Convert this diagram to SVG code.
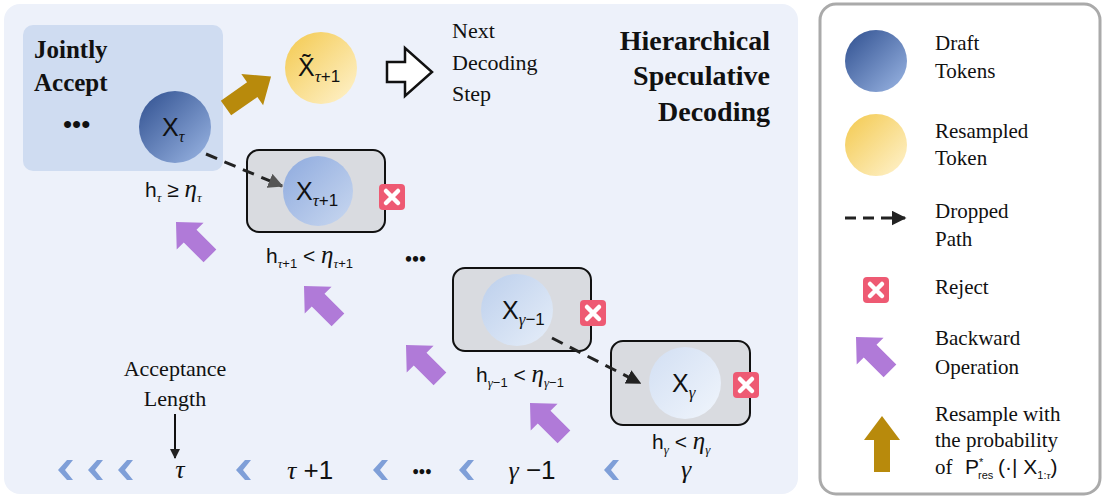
<svg xmlns="http://www.w3.org/2000/svg" width="1106" height="499" viewBox="0 0 1106 499">
<defs>
<linearGradient id="gDark" x1="0" y1="0" x2="1" y2="1"><stop offset="0" stop-color="#2f4f8f"/><stop offset="1" stop-color="#9bb6e4"/></linearGradient>
<linearGradient id="gMid" x1="0" y1="0" x2="1" y2="1"><stop offset="0" stop-color="#8eaade"/><stop offset="1" stop-color="#c9d8f0"/></linearGradient>
<linearGradient id="gLight" x1="0" y1="0" x2="1" y2="1"><stop offset="0" stop-color="#bccfec"/><stop offset="1" stop-color="#e6eef9"/></linearGradient>
<linearGradient id="gPale" x1="0" y1="0" x2="1" y2="1"><stop offset="0" stop-color="#d2dff3"/><stop offset="1" stop-color="#f0f5fc"/></linearGradient>
<linearGradient id="gYel" x1="0" y1="0" x2="1" y2="1"><stop offset="0" stop-color="#f3c94e"/><stop offset="1" stop-color="#fff3cf"/></linearGradient>
<marker id="ah" viewBox="0 0 10 10" refX="9" refY="5" markerWidth="5" markerHeight="5" orient="auto"><path d="M0,0 L10,5 L0,10 Z" fill="#222"/></marker>
<marker id="ahg" viewBox="0 0 10 10" refX="9" refY="5" markerWidth="5" markerHeight="5" orient="auto"><path d="M0,0 L10,5 L0,10 Z" fill="#555"/></marker>
<path id="purp" d="M0,0 L20,-19 L20,-9 L48,-9 L48,9 L20,9 L20,19 Z" fill="#b07ad8"/>
<path id="chev" d="M5,-10 L-4,0 L5,10 L11,10 L3,0 L11,-10 Z" fill="#7f9fd8"/>
<g id="rej"><rect x="-13" y="-13" width="26" height="26" rx="4" fill="#ee5a73"/><path d="M-6,-6 L6,6 M6,-6 L-6,6" stroke="#fff" stroke-width="4.5" stroke-linecap="round"/></g>
</defs>
<style>
.serif{font-family:"Liberation Serif","DejaVu Serif",serif;fill:#111}
.sans{font-family:"Liberation Sans","DejaVu Sans",sans-serif;fill:#111}
.it{font-style:italic}
.box{fill:#d9dbe0;stroke:#111;stroke-width:2}
.lg{font-size:21px}
</style>
<rect x="4" y="4" width="794" height="490" rx="16" fill="#edf1fa"/>
<rect x="820" y="4" width="280" height="490" rx="16" fill="#fff" stroke="#aaa" stroke-width="3"/>
<text class="serif" x="770" y="50" font-size="28" font-weight="bold" text-anchor="end">Hierarchical</text>
<text class="serif" x="770" y="85" font-size="28" font-weight="bold" text-anchor="end">Speculative</text>
<text class="serif" x="770" y="121" font-size="28" font-weight="bold" text-anchor="end">Decoding</text>
<g id="accept">
<rect x="23" y="25" width="200" height="146" rx="10" fill="#cfdcf1"/>
<text class="serif" x="34" y="58" font-size="25" font-weight="bold">Jointly</text>
<text class="serif" x="34" y="91" font-size="25" font-weight="bold">Accept</text>
<text class="serif" x="63" y="133" font-size="26" font-weight="bold">•••</text>
</g>
<g id="xtau">
<circle cx="175" cy="127" r="36" fill="url(#gDark)"/>
<text class="sans" x="162" y="136" font-size="25">X<tspan class="serif it" font-size="16" dy="6">τ</tspan></text>
<text class="sans" x="145" y="197" font-size="21">h<tspan class="serif it" font-size="13" dy="5">τ</tspan><tspan dy="-5"> ≥ </tspan><tspan class="serif it" font-size="25">η</tspan><tspan class="serif it" font-size="13" dy="5">τ</tspan></text>
</g>
<g id="xres">
<circle cx="321" cy="68" r="36" fill="url(#gYel)"/>
<text class="sans" x="298" y="76" font-size="25">X̃<tspan class="serif it" font-size="17" dy="6">τ</tspan><tspan font-size="17">+1</tspan></text>
</g>
<g id="next">
<path d="M387,62 L405,62 L405,48 L432,72 L405,96 L405,82 L387,82 Z" fill="#fff" stroke="#111" stroke-width="2.5"/>
<text class="serif" x="452" y="38" font-size="22">Next</text>
<text class="serif" x="452" y="70" font-size="22">Decoding</text>
<text class="serif" x="452" y="101" font-size="22">Step</text>
</g>
<g id="node1">
<rect class="box" x="247" y="150" width="138" height="82" rx="12"/>
<circle cx="318" cy="191" r="35" fill="url(#gMid)"/>
<text class="sans" x="296" y="200" font-size="25">X<tspan class="serif it" font-size="17" dy="6">τ</tspan><tspan font-size="17">+1</tspan></text>
<use href="#rej" x="392" y="197"/>
<text class="sans" x="266" y="263" font-size="21">h<tspan class="serif it" font-size="13" dy="5">τ</tspan><tspan font-size="13">+1</tspan><tspan dy="-5"> &lt; </tspan><tspan class="serif it" font-size="25">η</tspan><tspan class="serif it" font-size="13" dy="5">τ</tspan><tspan font-size="13">+1</tspan></text>
</g>
<text class="serif" x="405" y="266" font-size="20" font-weight="bold">•••</text>
<g id="node2">
<rect class="box" x="453" y="268" width="138" height="83" rx="12"/>
<circle cx="517" cy="310" r="36" fill="url(#gLight)"/>
<text class="sans" x="502" y="319" font-size="25">X<tspan class="serif it" font-size="17" dy="6">γ</tspan><tspan font-size="17">−1</tspan></text>
<use href="#rej" x="593" y="313"/>
<text class="sans" x="476" y="382" font-size="21">h<tspan class="serif it" font-size="13" dy="5">γ</tspan><tspan font-size="13">−1</tspan><tspan dy="-5"> &lt; </tspan><tspan class="serif it" font-size="25">η</tspan><tspan class="serif it" font-size="13" dy="5">γ</tspan><tspan font-size="13">−1</tspan></text>
</g>
<g id="node3">
<rect class="box" x="611" y="341" width="139" height="84" rx="12"/>
<circle cx="685" cy="383" r="36" fill="url(#gPale)"/>
<text class="sans" x="672" y="392" font-size="25">X<tspan class="serif it" font-size="17" dy="6">γ</tspan></text>
<use href="#rej" x="746" y="385"/>
<text class="sans" x="652" y="449" font-size="21">h<tspan class="serif it" font-size="13" dy="5">γ</tspan><tspan dy="-5"> &lt; </tspan><tspan class="serif it" font-size="25">η</tspan><tspan class="serif it" font-size="13" dy="5">γ</tspan></text>
</g>
<g id="connectors">
<line x1="206" y1="154" x2="282" y2="186" stroke="#222" stroke-width="3" stroke-dasharray="12,8" marker-end="url(#ahg)"/>
<line x1="552" y1="338" x2="640" y2="383" stroke="#222" stroke-width="3" stroke-dasharray="12,8" marker-end="url(#ah)"/>
<path d="M0,-9 L32,-9 L32,-19 L55,0 L32,19 L32,9 L0,9 Z" fill="#b88a0c" transform="translate(226,108) rotate(-35)"/>
<use href="#purp" transform="translate(176,222) rotate(45)"/>
<use href="#purp" transform="translate(304,286) rotate(45)"/>
<use href="#purp" transform="translate(406,345) rotate(45)"/>
<use href="#purp" transform="translate(530,403) rotate(45)"/>
<line x1="175" y1="414" x2="175" y2="458" stroke="#111" stroke-width="2" marker-end="url(#ah)"/>
</g>
<g id="axis">
<text class="serif" x="175" y="376" font-size="22" text-anchor="middle">Acceptance</text>
<text class="serif" x="175" y="406" font-size="22" text-anchor="middle">Length</text>
<use href="#chev" x="62" y="470"/><use href="#chev" x="92" y="470"/><use href="#chev" x="122" y="470"/>
<text class="serif it" x="180" y="478" font-size="26" text-anchor="middle">τ</text>
<use href="#chev" x="240" y="470"/>
<text class="sans" x="310" y="479" font-size="26" text-anchor="middle"><tspan class="serif it">τ</tspan> +1</text>
<use href="#chev" x="377" y="470"/>
<text class="serif" x="422" y="478" font-size="18" font-weight="bold" text-anchor="middle">•••</text>
<use href="#chev" x="463" y="470"/>
<text class="sans" x="532" y="479" font-size="26" text-anchor="middle"><tspan class="serif it">γ</tspan> −1</text>
<use href="#chev" x="608" y="470"/>
<text class="serif it" x="686" y="478" font-size="26" text-anchor="middle">γ</text>
</g>
<g id="legend">
<circle cx="876" cy="61" r="31" fill="url(#gDark)"/>
<text class="serif lg" x="935" y="50">Draft</text>
<text class="serif lg" x="935" y="78">Tokens</text>
<circle cx="876" cy="145" r="31" fill="url(#gYel)"/>
<text class="serif lg" x="935" y="138">Resampled</text>
<text class="serif lg" x="935" y="165">Token</text>
<line x1="845" y1="218" x2="905" y2="218" stroke="#222" stroke-width="3" stroke-dasharray="11,7" marker-end="url(#ah)"/>
<text class="serif lg" x="935" y="218">Dropped</text>
<text class="serif lg" x="935" y="246">Path</text>
<use href="#rej" x="876" y="290"/>
<text class="serif lg" x="935" y="294">Reject</text>
<use href="#purp" transform="translate(856,337) rotate(45)"/>
<text class="serif lg" x="935" y="345">Backward</text>
<text class="serif lg" x="935" y="374">Operation</text>
<path d="M874,472 L874,440 L864,440 L882,416 L900,440 L890,440 L890,472 Z" fill="#b88a0c"/>
<text class="serif lg" x="935" y="421">Resample with</text>
<text class="serif lg" x="935" y="447">the probability</text>
<text class="serif lg" x="935" y="474">of</text>
<text class="sans" x="965" y="474" font-size="21">P</text>
<text class="sans" x="979" y="466" font-size="11">*</text>
<text class="sans" x="978" y="479" font-size="11">res</text>
<text class="sans" x="998" y="474" font-size="21">(·| X<tspan font-size="11" dy="5">1:<tspan class="serif it">τ</tspan></tspan><tspan dy="-5">)</tspan></text>
</g>
</svg>
